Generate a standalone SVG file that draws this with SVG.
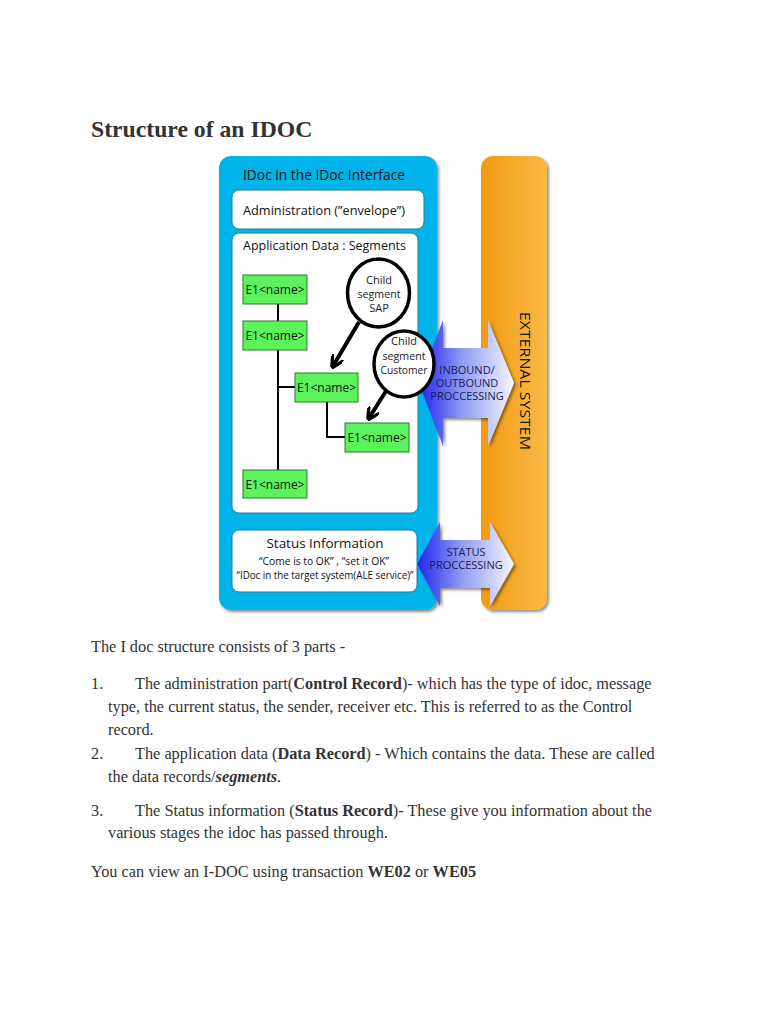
<svg xmlns="http://www.w3.org/2000/svg" width="768" height="1024" viewBox="0 0 768 1024">
<defs>
<linearGradient id="orange" x1="0" y1="0" x2="1" y2="0">
<stop offset="0" stop-color="#F29A12"/>
<stop offset="1" stop-color="#F9BA45"/>
</linearGradient>
<linearGradient id="bluearrow" x1="0" y1="0" x2="1" y2="0">
<stop offset="0" stop-color="#2222EE"/>
<stop offset="0.45" stop-color="#8E9AF2"/>
<stop offset="1" stop-color="#F4F6FF"/>
</linearGradient>
<filter id="sh" x="-10%" y="-10%" width="130%" height="130%">
<feDropShadow dx="2" dy="2" stdDeviation="1.5" flood-color="#000" flood-opacity="0.45"/>
</filter>
<marker id="ah" viewBox="0 0 10 10" refX="8" refY="5" markerWidth="3.2" markerHeight="3.2" orient="auto">
<path d="M0,0 L10,5 L0,10" fill="none" stroke="#000" stroke-width="2.5"/>
</marker>
<style>
.d{font-family:"Open Sans","DejaVu Sans",sans-serif;fill:#111;}
.body{font-family:"Liberation Serif","Times New Roman",serif;font-size:16.3px;fill:#333;}
.seg rect{fill:#5CF25C;stroke:#2a7a2a;stroke-width:1;}
.seg text{font-family:"Open Sans","DejaVu Sans",sans-serif;font-size:12px;fill:#111;text-anchor:middle;}
.wbox{fill:#fff;stroke:#1d7fa0;stroke-width:1;}
.circ{fill:#fff;stroke:#000;stroke-width:3.5;}
.ct{font-family:"Open Sans","DejaVu Sans",sans-serif;font-size:11px;fill:#222;text-anchor:middle;}
.tree{stroke:#000;stroke-width:2;fill:none;}
.arr{stroke:#000;stroke-width:4;fill:none;}
.at{font-family:"Open Sans","DejaVu Sans",sans-serif;font-size:11px;fill:#1a1a55;text-anchor:middle;}
</style>
</defs>
<rect width="768" height="1024" fill="#fff"/>
<text x="91" y="137" font-family="Liberation Serif,serif" font-weight="bold" font-size="23.7" fill="#333">Structure of an IDOC</text>

<g id="external-system">
<rect x="481" y="156" width="66" height="454" rx="12" fill="url(#orange)" filter="url(#sh)"/>
<text transform="translate(520,381) rotate(90)" class="d" font-size="15" text-anchor="middle" textLength="138" lengthAdjust="spacingAndGlyphs">EXTERNAL SYSTEM</text>
</g>

<g id="idoc-interface">
<rect x="219" y="156" width="218" height="454" rx="12" fill="#00B4EA" filter="url(#sh)"/>
<text x="324" y="180" class="d" font-size="14" text-anchor="middle" textLength="162" lengthAdjust="spacingAndGlyphs">IDoc in the IDoc Interface</text>
</g>

<g id="administration">
<rect class="wbox" x="232" y="190" width="192" height="39" rx="7"/>
<text x="324" y="215" class="d" font-size="13" text-anchor="middle" textLength="162" lengthAdjust="spacingAndGlyphs">Administration (”envelope”)</text>
</g>

<g id="application-data">
<rect class="wbox" x="232" y="233" width="186" height="280" rx="7"/>
<text x="324.5" y="250" class="d" font-size="13" text-anchor="middle" textLength="163" lengthAdjust="spacingAndGlyphs">Application Data : Segments</text>
</g>

<g id="inbound-outbound">
<path d="M419,383 L443,320 L443,348 L488,348 L488,320 L514,383 L488,446 L488,418 L443,418 L443,446 Z" fill="url(#bluearrow)" filter="url(#sh)"/>
<text class="at" x="467" y="374">INBOUND/</text>
<text class="at" x="467" y="387">OUTBOUND</text>
<text class="at" x="467" y="400">PROCCESSING</text>
</g>

<g id="status-processing">
<path d="M417,564 L440,522 L440,540 L490,540 L490,522 L514,564 L490,606 L490,588 L440,588 L440,606 Z" fill="url(#bluearrow)" filter="url(#sh)"/>
<text class="at" x="466" y="556">STATUS</text>
<text class="at" x="466" y="569">PROCCESSING</text>
</g>

<g id="connectors">
<path class="tree" d="M278,304 V321 M278,350 V470 M278,387 H295 M327,402 V437 H345"/>
<path class="arr" d="M359,322 L333,366" marker-end="url(#ah)"/>
<path class="arr" d="M386,391 L369,418" marker-end="url(#ah)"/>
</g>

<g id="seg1" class="seg"><rect x="243" y="275" width="64" height="29"/><text x="275" y="294">E1&lt;name&gt;</text></g>
<g id="seg2" class="seg"><rect x="243" y="321" width="64" height="29"/><text x="275" y="340">E1&lt;name&gt;</text></g>
<g id="seg3" class="seg"><rect x="295" y="373" width="63" height="29"/><text x="326.5" y="392">E1&lt;name&gt;</text></g>
<g id="seg4" class="seg"><rect x="345" y="423" width="64" height="29"/><text x="377" y="442">E1&lt;name&gt;</text></g>
<g id="seg5" class="seg"><rect x="243" y="470" width="64" height="28"/><text x="275" y="489">E1&lt;name&gt;</text></g>

<g id="child-sap">
<ellipse class="circ" cx="378.5" cy="293" rx="31" ry="34"/>
<text class="ct" x="379" y="284">Child</text>
<text class="ct" x="379" y="298" textLength="43" lengthAdjust="spacingAndGlyphs">segment</text>
<text class="ct" x="379" y="312">SAP</text>
</g>

<g id="child-customer">
<ellipse class="circ" cx="404" cy="364" rx="30" ry="33"/>
<text class="ct" x="404" y="345">Child</text>
<text class="ct" x="404" y="360" textLength="43" lengthAdjust="spacingAndGlyphs">segment</text>
<text class="ct" x="404" y="374" textLength="47" lengthAdjust="spacingAndGlyphs">Customer</text>
</g>

<g id="status-information">
<rect class="wbox" x="232" y="530" width="185" height="62" rx="7"/>
<text x="325" y="548" class="d" font-size="13.5" text-anchor="middle" textLength="117" lengthAdjust="spacingAndGlyphs">Status Information</text>
<text x="324" y="565" class="d" font-size="11" text-anchor="middle" textLength="130" lengthAdjust="spacingAndGlyphs">“Come is to OK” , “set it OK”</text>
<text x="325" y="579" class="d" font-size="11" text-anchor="middle" textLength="177" lengthAdjust="spacingAndGlyphs">“IDoc in the target system(ALE service)”</text>
</g>

<g id="text">
<text class="body" x="91" y="652">The I doc structure consists of 3 parts -</text>
<text class="body" x="91" y="689">1.</text>
<text class="body" x="135" y="689">The administration part(<tspan font-weight="bold">Control Record</tspan>)- which has the type of idoc, message</text>
<text class="body" x="108" y="712">type, the current status, the sender, receiver etc. This is referred to as the Control</text>
<text class="body" x="108" y="735">record.</text>
<text class="body" x="91" y="759">2.</text>
<text class="body" x="135" y="759">The application data (<tspan font-weight="bold">Data Record</tspan>) - Which contains the data. These are called</text>
<text class="body" x="108" y="782">the data records/<tspan font-weight="bold" font-style="italic">segments</tspan>.</text>
<text class="body" x="91" y="816">3.</text>
<text class="body" x="135" y="816">The Status information (<tspan font-weight="bold">Status Record</tspan>)- These give you information about the</text>
<text class="body" x="108" y="838">various stages the idoc has passed through.</text>
<text class="body" x="91" y="877">You can view an I-DOC using transaction <tspan font-weight="bold">WE02</tspan> or <tspan font-weight="bold">WE05</tspan></text>
</g>
</svg>
